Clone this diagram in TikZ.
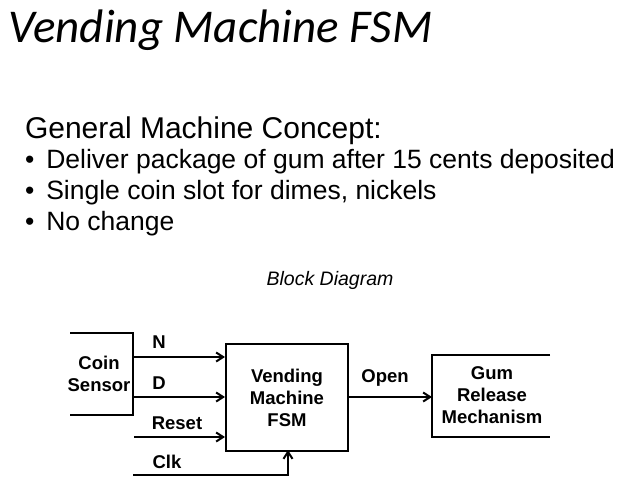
\documentclass[tikz,border=0pt]{standalone}
\usetikzlibrary{arrows.meta}
\usepackage{fontspec}
\setmainfont{Liberation Sans}
\newfontfamily\carl{Carlito}
\begin{document}
\begin{tikzpicture}[x=1pt,y=-1pt,line width=2pt,
  lab/.style={font=\fontsize{18.5}{20}\selectfont\bfseries,inner sep=0pt},
  arr/.style={-{Straight Barb[length=7pt,width=9pt]}},
  box/.style={draw,line width=2pt,align=center,font=\fontsize{18.5}{22}\selectfont\bfseries}]
\useasboundingbox (0,0) rectangle (630,491);
\node[anchor=west,inner sep=0pt,font=\carl\itshape\fontsize{47}{54}\selectfont] (title) at (8,30) {Vending Machine FSM};
\node[anchor=west,inner sep=0pt,font=\fontsize{30}{34}\selectfont] (gmc) at (24,131) {General Machine Concept:};
\node[anchor=west,inner sep=0pt,font=\fontsize{26.5}{30}\selectfont] (b1) at (24,162) {\textbullet\hspace{12pt}Deliver package of gum after 15 cents deposited};
\node[anchor=west,inner sep=0pt,font=\fontsize{26.5}{30}\selectfont] (b2) at (24,193) {\textbullet\hspace{12pt}Single coin slot for dimes, nickels};
\node[anchor=west,inner sep=0pt,font=\fontsize{26.5}{30}\selectfont] (b3) at (24,224) {\textbullet\hspace{12pt}No change};
\node[inner sep=0pt,font=\itshape\fontsize{19.5}{22}\selectfont] (bd) at (330,280) {Block Diagram};
% coin sensor
\coordinate (cs1) at (70,333); \coordinate (cs2) at (133,333);
\coordinate (cs3) at (133,415); \coordinate (cs4) at (70,415);
\draw (cs1) -- (cs2) -- (cs3) -- (cs4);
\node[lab,align=center,font=\fontsize{18.5}{22}\selectfont\bfseries] (cs) at (99,374) {Coin\\Sensor};
% FSM
\node[box,minimum width=122pt,minimum height=107pt,anchor=north west] (fsm) at (225,343) {Vending\\Machine\\FSM};
% gum
\coordinate (g1) at (550,355); \coordinate (g2) at (432,355);
\coordinate (g3) at (432,437); \coordinate (g4) at (550,437);
\draw (g1) -- (g2) -- (g3) -- (g4);
\node[lab,align=center,font=\fontsize{18.5}{22}\selectfont\bfseries] (gum) at (492,395) {Gum\\Release\\Mechanism};
% signals
\coordinate (n0) at (133,357); \coordinate (n1) at (225,357);
\coordinate (d0) at (133,397); \coordinate (d1) at (225,397);
\coordinate (r0) at (134,437); \coordinate (r1) at (225,437);
\coordinate (c0) at (133,475); \coordinate (c1) at (288,475); \coordinate (c2) at (288,450);
\coordinate (o0) at (347,397); \coordinate (o1) at (432,397);
\draw[arr] (n0) -- (n1);
\draw[arr] (d0) -- (d1);
\draw[arr] (r0) -- (r1);
\draw[arr] (c0) -- (c1) -- (c2);
\draw[arr] (o0) -- (o1);
\node[lab] (nl) at (159,342) {N};
\node[lab] (dl) at (159,383) {D};
\node[lab] (rl) at (177,423) {Reset};
\node[lab] (cl) at (167,462) {Clk};
\node[lab] (ol) at (385,378) {Open};
\end{tikzpicture}
\end{document}
